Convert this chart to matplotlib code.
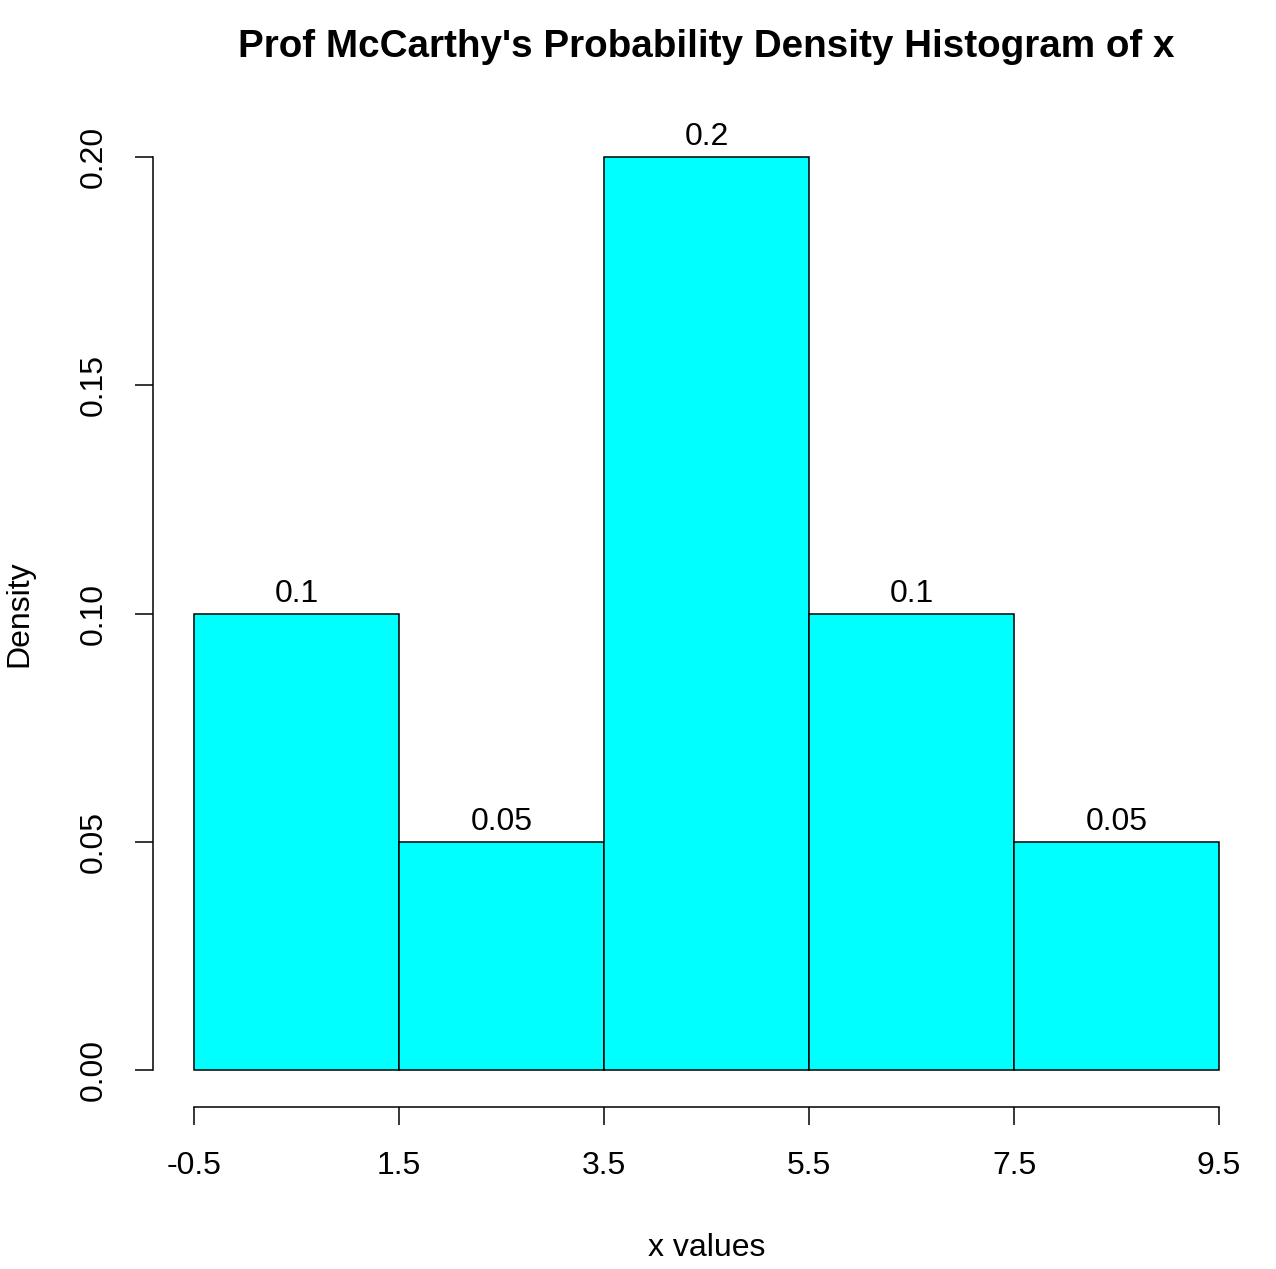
from matplotlib import pyplot as plt

plt.rcParams['font.family'] = ['Liberation Sans', 'DejaVu Sans']

bin_edges = [-0.5, 1.5, 3.5, 5.5, 7.5, 9.5]
densities = [0.1, 0.05, 0.2, 0.1, 0.05]
bar_labels = ['0.1', '0.05', '0.2', '0.1', '0.05']
y_ticks = [0.00, 0.05, 0.10, 0.15, 0.20]
y_tick_labels = ['0.00', '0.05', '0.10', '0.15', '0.20']
x_tick_labels = ['-0.5', '1.5', '3.5', '5.5', '7.5', '9.5']

fig = plt.figure(figsize=(12.76, 12.69), dpi=100)
ax = fig.add_axes([153 / 1276, 1 - 1107 / 1269, 1107 / 1276, 986.5 / 1269])

lefts = bin_edges[:-1]
widths = [b - a for a, b in zip(bin_edges[:-1], bin_edges[1:])]
ax.bar(lefts, densities, width=widths, align='edge', color='#00FFFF',
       edgecolor='black', linewidth=1.1)

# value labels above each bar
for left, w, d, lab in zip(lefts, widths, densities, bar_labels):
    ax.annotate(lab, (left + w / 2, d), xytext=(0, 3.5), textcoords='offset points',
                ha='center', va='bottom', fontsize=23)

span_x = bin_edges[-1] - bin_edges[0]
ax.set_xlim(bin_edges[0] - 0.04 * span_x, bin_edges[-1] + 0.04 * span_x)
ax.set_ylim(-0.04 * 0.2, 0.2 * 1.04)

for s in ['top', 'right']:
    ax.spines[s].set_visible(False)
ax.spines['left'].set_bounds(0, 0.2)
ax.spines['bottom'].set_bounds(bin_edges[0], bin_edges[-1])
ax.spines['left'].set_linewidth(1.1)
ax.spines['bottom'].set_linewidth(1.1)

ax.set_xticks(bin_edges)
ax.set_xticklabels(x_tick_labels)
ax.set_yticks(y_ticks)
ax.set_yticklabels(y_tick_labels, rotation=90, va='center')
ax.tick_params(axis='both', direction='out', length=13, width=1.1, labelsize=23, pad=19)

ax.set_title("Prof McCarthy's Probability Density Histogram of x", fontsize=27.8,
             fontweight='bold', pad=46)
ax.set_xlabel('x values', fontsize=23, labelpad=37)
ax.set_ylabel('Density', fontsize=23, labelpad=32)

plt.savefig('out.png', dpi=100)
plt.close()
